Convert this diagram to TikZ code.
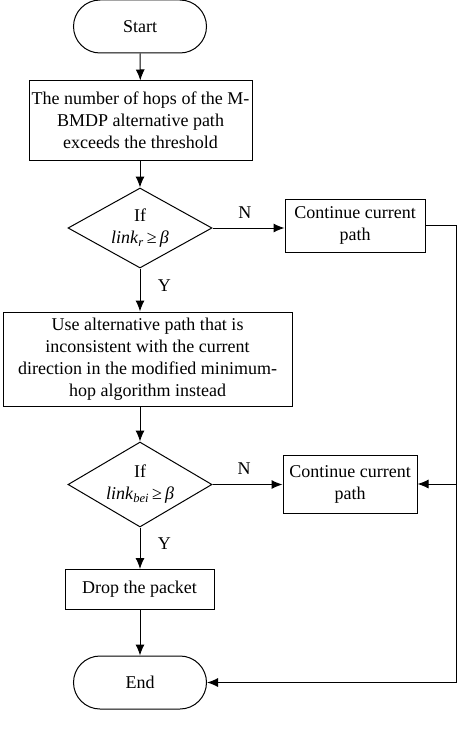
\documentclass[tikz,border=0pt]{standalone}
\usepackage{fontspec}
\setmainfont{Liberation Serif}
\usetikzlibrary{shapes.geometric,shapes.misc,arrows.meta}
\begin{document}
\begin{tikzpicture}[x=1pt,y=1pt,
  every node/.style={font=\fontsize{18}{22}\selectfont},
  base/.style={draw,line width=1pt,inner sep=0pt,align=center},
  term/.style={base,rounded rectangle,minimum width=133pt,minimum height=53pt},
  proc/.style={base,rectangle},
  dec/.style={base,diamond,minimum width=144pt,minimum height=82pt,aspect=1.8},
  txt/.style={align=center,inner sep=0pt},
  arr/.style={line width=1pt,-{Latex[length=11pt,width=9pt]}},
  ln/.style={line width=1pt}]
\useasboundingbox (0,0) rectangle (474,-733);
\node[term] (start) at (140,-26.5) {Start};
\node[proc,minimum width=223pt,minimum height=79pt] (box1) at (140.5,-120.5)
  {The number of hops of the M-\\BMDP alternative path\\exceeds the threshold};
\node[dec,minimum height=80pt] (d1) at (140,-228) {};
\node[txt] (t1) at (140,-228) {If\\\textit{link}\textsubscript{\textit{r}}\,≥\,\textit{β}};
\node[proc,minimum width=140pt,minimum height=53pt] (c1) at (355,-225.5) {Continue current\\path};
\node[proc,minimum width=289pt,minimum height=94pt] (box2) at (147.5,-359)
  {Use alternative path that is\\inconsistent with the current\\direction in the modified minimum-\\hop algorithm instead};
\node[dec,minimum height=85pt] (d2) at (140,-484.5) {};
\node[txt] (t2) at (140,-484.5) {If\\\textit{link}\textsubscript{\textit{bei}}\,≥\,\textit{β}};
\node[proc,minimum width=134pt,minimum height=58pt] (c2) at (350,-484) {Continue current\\path};
\node[proc,minimum width=149pt,minimum height=40pt] (drop) at (139.5,-589.5) {Drop the packet};
\node[term] (end) at (140,-682.5) {End};
\coordinate (r1) at (456,-225.5);
\coordinate (r2) at (456,-484);
\coordinate (r3) at (456,-682.5);
\draw[arr] (start) -- (box1);
\draw[arr] (box1.south -| d1) -- (d1.north);
\draw[arr] (d1.east) -- node[pos=0.45,above=6pt] (n1) {N} (d1.east -| c1.west);
\draw[arr] (d1.south) -- node[pos=0.4,right=14pt] (y1) {Y} (d1.south |- box2.north);
\draw[arr] (box2.south -| d2) -- (d2.north);
\draw[arr] (d2.east) -- node[pos=0.45,above=6pt] (n2) {N} (d2.east -| c2.west);
\draw[arr] (d2.south) -- node[pos=0.4,right=14pt] (y2) {Y} (d2.south |- drop.north);
\draw[arr] (drop.south -| end) -- (end.north);
\draw[ln] (c1.east) -- (r1) -- (r3);
\draw[arr] (r3) -- (end.east);
\draw[arr] (r2) -- (c2.east);
\end{tikzpicture}
\end{document}
